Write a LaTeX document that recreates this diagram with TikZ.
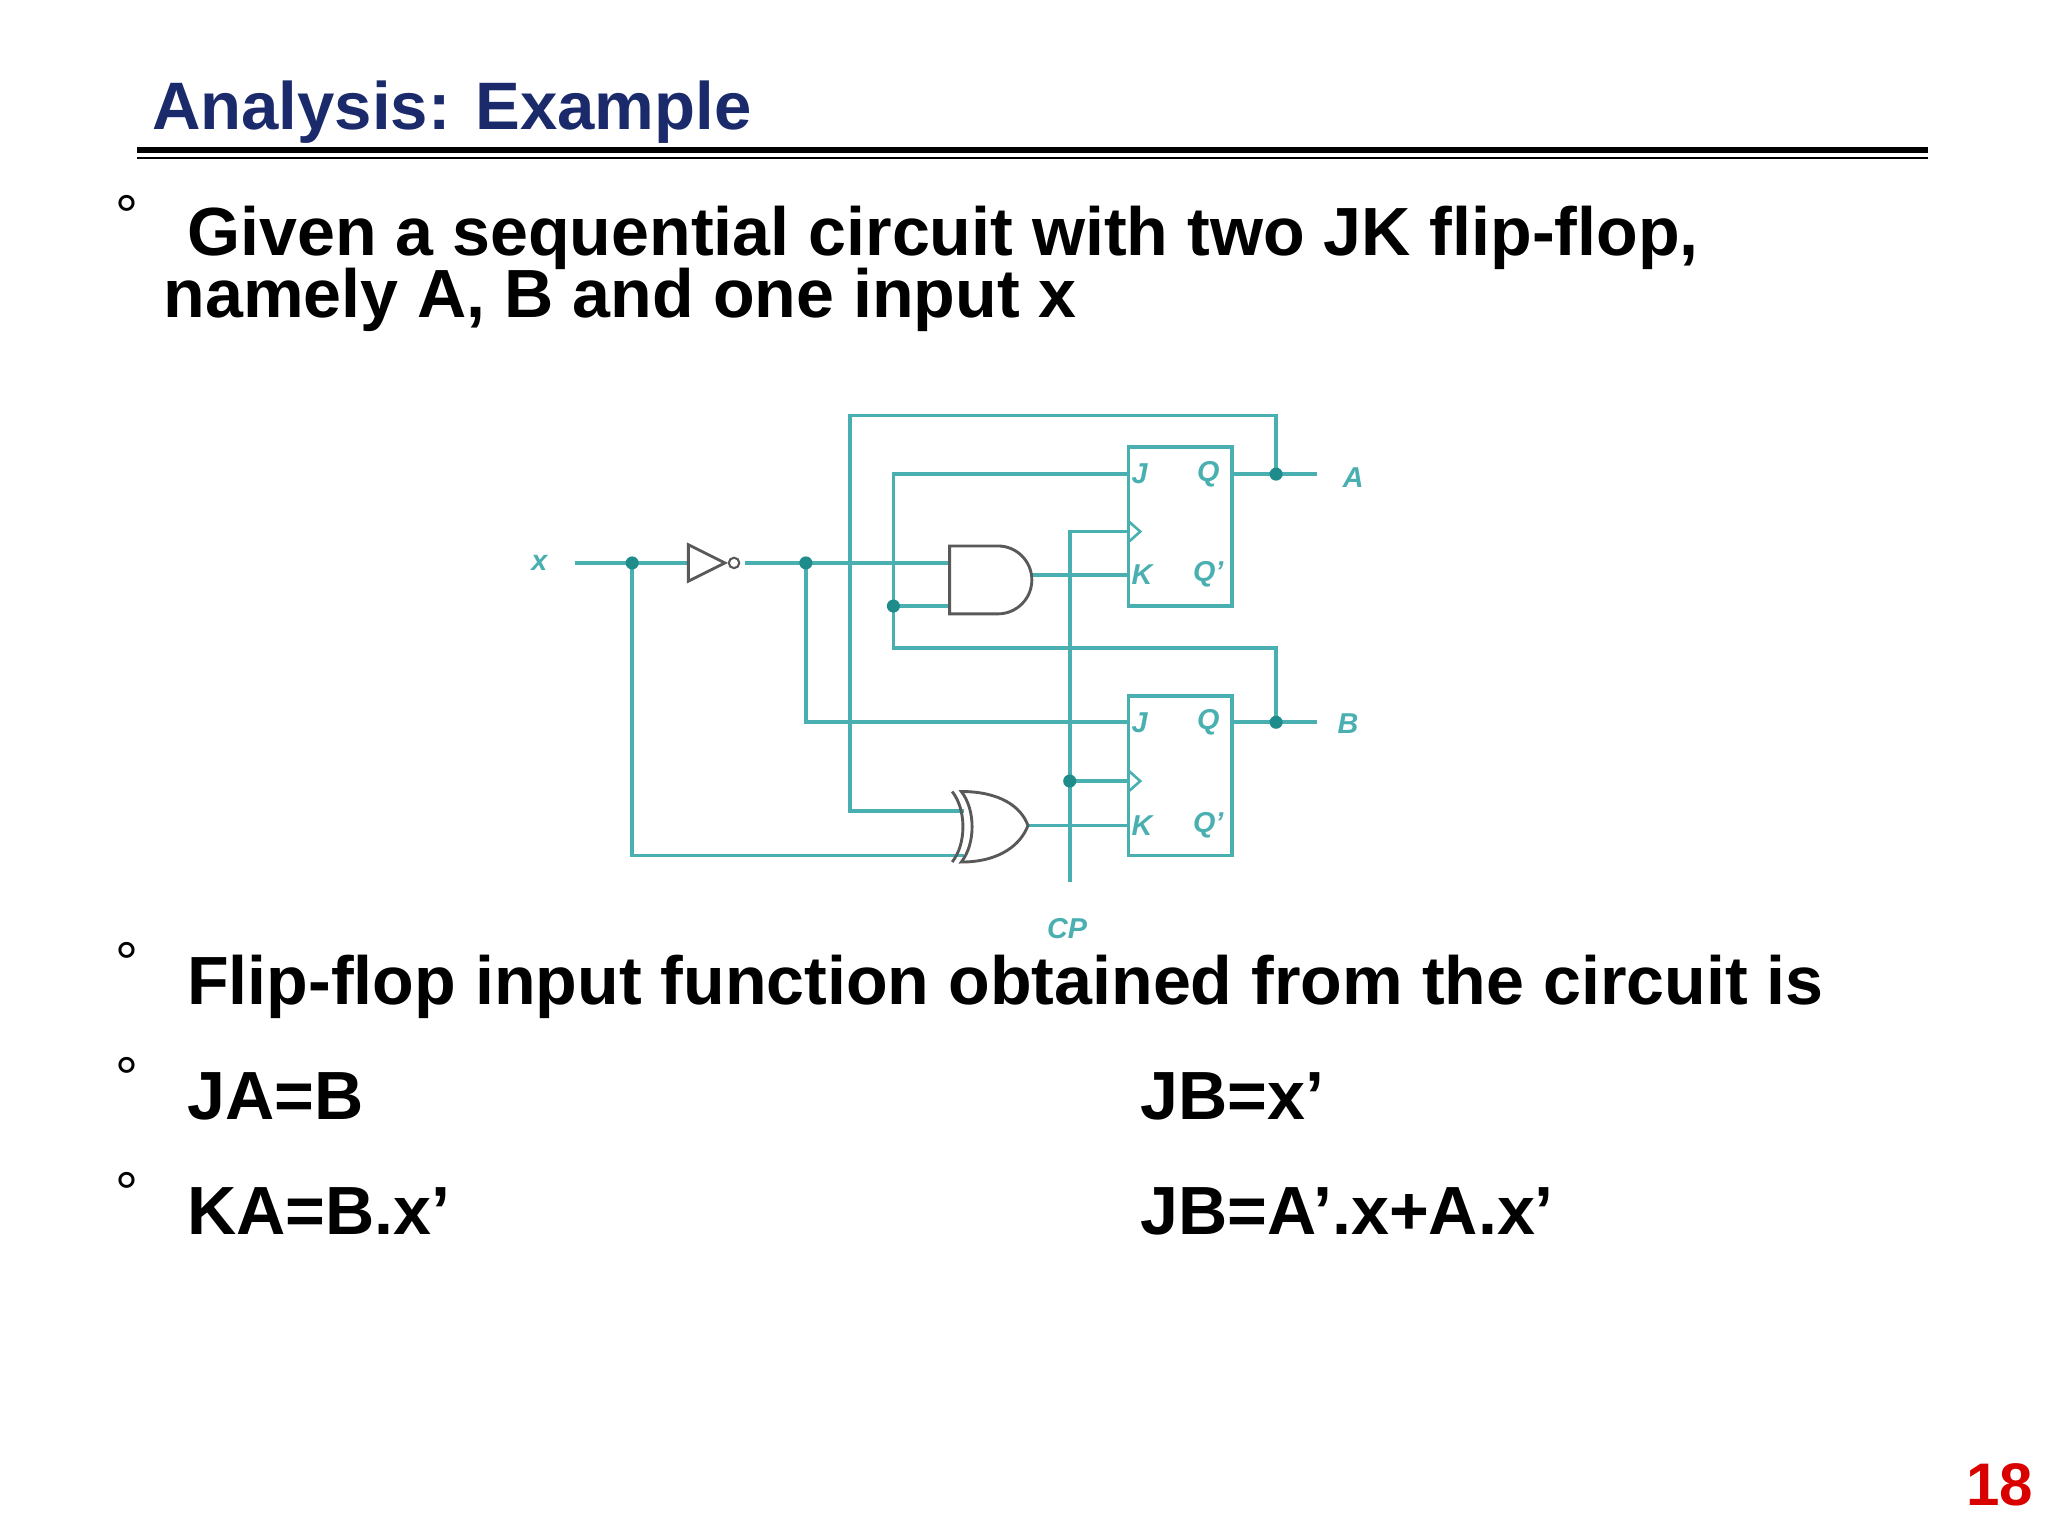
\documentclass[tikz,border=0pt]{standalone}
\usepackage{fontspec}
\setmainfont{Liberation Sans}
\begin{document}
\begin{tikzpicture}[x=0.5pt,y=-0.5pt,
  wire/.style={draw=wc,line width=1.4pt},
  gate/.style={draw=gray!70!black,line width=1.1pt,fill=white},
  dotc/.style={circle,fill=dc,inner sep=0pt,minimum size=5pt},
  lab/.style={text=wc,font=\itshape\bfseries\fontsize{11}{12}\selectfont,inner sep=0pt},
  body/.style={anchor=base west,inner sep=0pt,font=\bfseries\fontsize{26.1}{28}\selectfont},
  bul/.style={anchor=base,inner sep=0pt,font=\fontsize{22}{24}\selectfont}]
\definecolor{wc}{HTML}{4AAFB0}
\definecolor{dc}{HTML}{1E8C8A}
\definecolor{navy}{HTML}{1B2A6B}
\useasboundingbox (0,0) rectangle (1568,1176);
\fill[white] (0,0) rectangle (1568,1176);
% title
\node[anchor=base west,inner sep=0pt,text=navy,font=\bfseries\fontsize{25.7}{28}\selectfont] (title) at (116,99) {Analysis: Example};
\draw[line width=2.2pt] (105,115) -- (1476,115);
\draw[line width=0.8pt] (105,121) -- (1476,121);
% text
\node[bul] (b1) at (97,180) {°};
\node[body] (t1) at (143,196) {Given a sequential circuit with two JK flip-flop,};
\node[body] (t1b) at (125,243) {namely A, B and one input x};
\node[bul] (b2) at (97,752) {°};
\node[body] (t2) at (143,769) {Flip-flop input function obtained from the circuit is};
\node[bul] (b3) at (97,840) {°};
\node[body] (t3) at (143,857) {JA=B};
\node[body] (t3b) at (873,857) {JB=x’};
\node[bul] (b4) at (97,928) {°};
\node[body] (t4) at (143,945) {KA=B.x’};
\node[body] (t4b) at (873,945) {JB=A’.x+A.x’};
\node[anchor=base east,inner sep=0pt,text=red!85!black,font=\bfseries\fontsize{23}{24}\selectfont] (pg) at (1557,1153) {18};
% flip-flops
\node[draw=wc,line width=1.4pt,minimum width=39.5pt,minimum height=61pt,inner sep=0pt] (FA) at (903.5,403) {};
\node[draw=wc,line width=1.4pt,minimum width=39.5pt,minimum height=61pt,inner sep=0pt] (FB) at (903.5,594) {};
\foreach \f/\y in {FA/363,FB/553}{
  \node[lab,anchor=west] at (866,\y) {J};
  \node[lab] at (925,\y) {Q};
}
\foreach \f/\y in {FA/440,FB/632}{
  \node[lab,anchor=west] at (866,\y) {K};
  \node[lab] at (925,\y) {Q'};
}
\draw[wc,line width=1pt] (864,399) -- (873,407) -- (864,415);
\draw[wc,line width=1pt] (864,590) -- (873,598) -- (864,606);
% labels
\node[lab] (lx) at (413,431) {x};
\node[lab] (lA) at (1036,366) {A};
\node[lab] (lB) at (1032,554) {B};
\node[lab] (lCP) at (817,711) {CP};
% coordinates
\coordinate (dx) at (484,431);
\coordinate (dn) at (617,431);
\coordinate (dB) at (684,464);
\coordinate (dA) at (977,363);
\coordinate (dB2) at (977,553);
\coordinate (dc) at (819,598);
% wires
\draw[wire] (440,431) -- (527,431);
\draw[wire] (570,431) -- (727,431);
\draw[wire] (dA) -- (977,318) -- (651,318) -- (651,621) -- (738,621);
\draw[wire] (943,363) -- (1008,363);
\draw[wire] (943,553) -- (1008,553);
\draw[wire] (864,363) -- (684,363) -- (684,496) -- (977,496) -- (dB2);
\draw[wire] (dB) -- (727,464);
\draw[wire] (dn) -- (617,553) -- (864,553);
\draw[wire] (dx) -- (484,655) -- (738,655);
\draw[wire] (790,440) -- (864,440);
\draw[wire] (787,632) -- (864,632);
\draw[wire] (819,675) -- (819,407) -- (864,407);
\draw[wire] (dc) -- (864,598);
% gates
\draw[gate] (527,417) -- (555,431) -- (527,445) -- cycle;
\draw[gate,line width=0.8pt] (562,431) circle (4);
\draw[gate] (727,418) -- (764,418) arc(-90:90:26) -- (727,470) -- cycle;
\draw[gate] (736,606) .. controls (766,606) and (782,618) .. (787,632)
   .. controls (782,646) and (766,660) .. (736,660)
   .. controls (747,646) and (747,620) .. (736,606) -- cycle;
\draw[gate,fill=none] (729,660) .. controls (740,646) and (740,620) .. (729,606);
% dots
\foreach \p in {dx,dn,dB,dA,dB2,dc} \node[dotc] at (\p) {};
\end{tikzpicture}
\end{document}
